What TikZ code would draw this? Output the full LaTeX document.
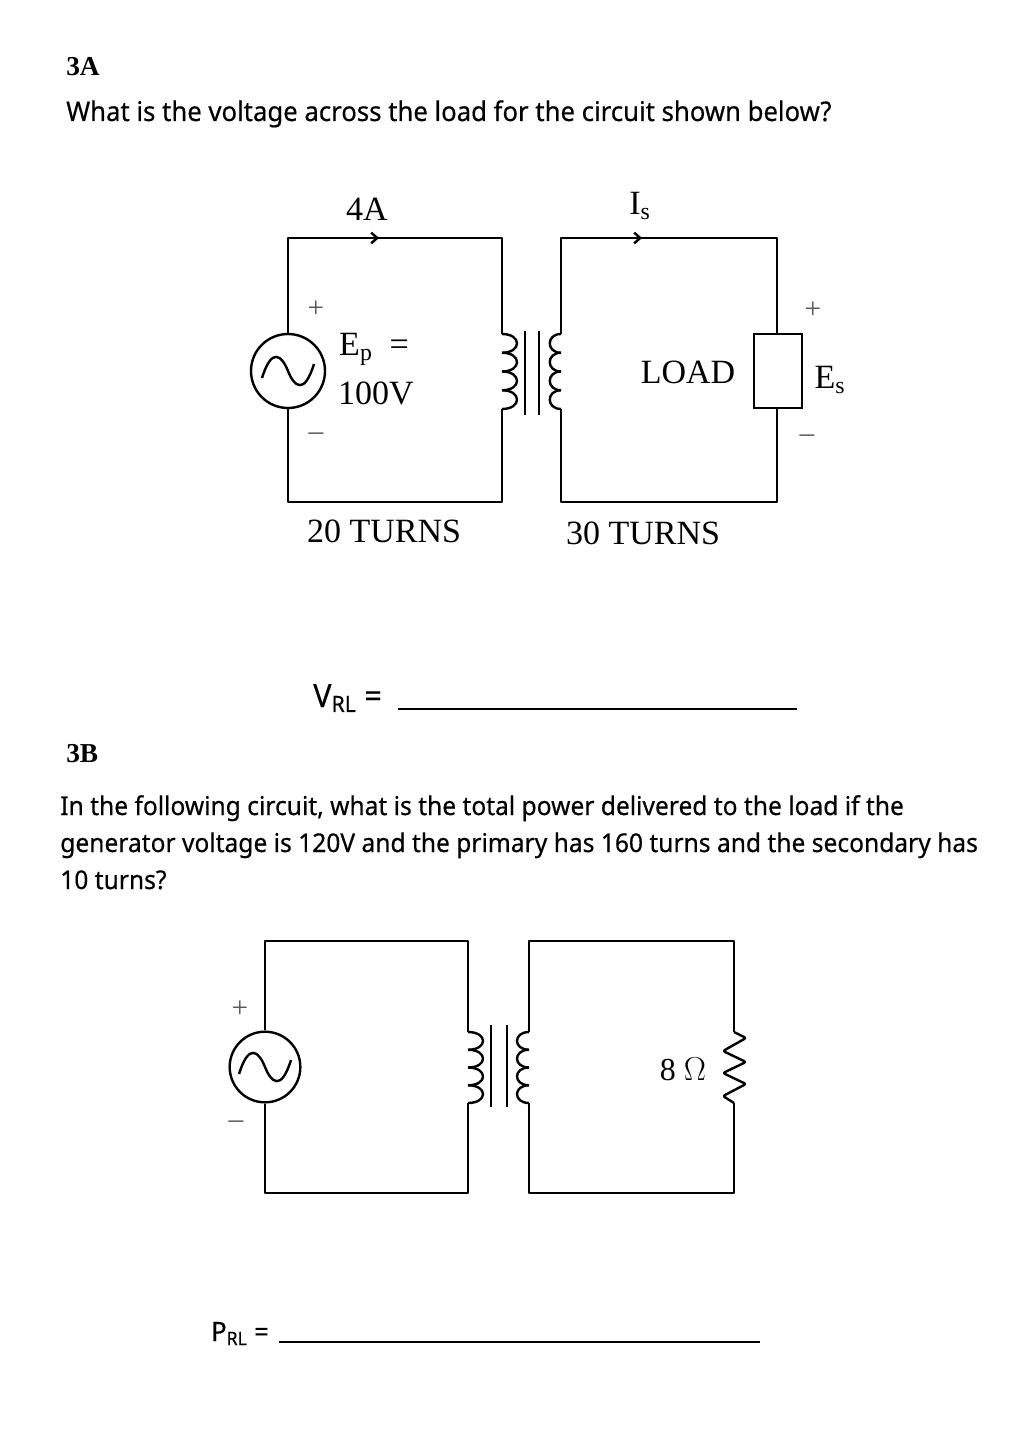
\documentclass[tikz,border=0pt]{standalone}
\usepackage{fontspec}
\setmainfont{Liberation Serif}
\newfontfamily\qfont[FakeStretch=0.95,FakeBold=0.4]{Noto Sans}
\usetikzlibrary{arrows.meta}
\tikzset{
  wire/.style={line width=1.8pt, line join=round},
  core/.style={line width=1.5pt},
  barb/.style={wire, -{Straight Barb[length=4.5pt,width=8pt]}},
  source/.style={circle, draw, line width=1.8pt, minimum size=55.5pt, inner sep=0pt},
  loadbox/.style={rectangle, draw, line width=1.8pt, minimum width=36pt, minimum height=55.5pt, inner sep=0pt},
  head/.style={anchor=base west, inner sep=0pt, font=\fontsize{20.5}{20.5}\selectfont\bfseries},
  qtext/.style={anchor=base west, inner sep=0pt, font=\qfont\fontsize{20.3}{20.3}\selectfont},
  qsmall/.style={qtext, font=\qfont\fontsize{19.4}{19.4}\selectfont},
  lab/.style={font=\fontsize{25.5}{25.5}\selectfont},
  sign/.style={font=\fontsize{22}{22}\selectfont, text=black!65},
  answer/.style={line width=1.4pt}
}
% x, y, bulge, step
\newcommand{\coilpath}[4]{
  \foreach \i in {0,1,2,3}
    \draw[wire] (#1,{#2+\i*#4}) .. controls ({#1+#3},{#2+\i*#4}) and ({#1+#3},{#2+(\i+1)*#4}) .. (#1,{#2+(\i+1)*#4});
}
\newcommand{\acsine}[1]{
  \draw[wire,shift={(#1.center)}] (-26,7) .. controls (-16,-25) and (-6,-15) .. (0,0) .. controls (6,15) and (16,25) .. (26,-7);
}
\begin{document}
\begin{tikzpicture}[x=0.75pt,y=-0.75pt]
\useasboundingbox[fill=white] (0,0) rectangle (1019,1434);

% first question
\node[head] (titleA) at (66,76) {3A};
\node[qtext] (qA) at (66,121) {What is the voltage across the load for the circuit shown below?};

\node[source] (srcA) at (288,371) {};
\acsine{srcA}
\coordinate (aTL) at (288,238);
\coordinate (aArr) at (379,238);
\coordinate (aTR) at (502,238);
\coordinate (aCt) at (502,334);
\coordinate (aCb) at (502,409);
\coordinate (aBR) at (502,502);
\coordinate (aBL) at (288,502);
\draw[wire] (srcA) -- (aTL) -- (aTR) -- (aCt);
\draw[barb] (aTL) -- (aArr);
\draw[wire] (aCb) -- (aBR) -- (aBL) -- (srcA);
\coilpath{502}{334}{20}{18.75}

\coordinate (aCore1t) at (525,331);
\coordinate (aCore1b) at (525,415);
\coordinate (aCore2t) at (539,331);
\coordinate (aCore2b) at (539,415);
\draw[core] (aCore1t) -- (aCore1b);
\draw[core] (aCore2t) -- (aCore2b);

\node[loadbox] (load) at (778,371) {};
\coordinate (bTL) at (561,238);
\coordinate (bArr) at (642,238);
\coordinate (bTR) at (777,238);
\coordinate (bCt) at (561,334);
\coordinate (bCb) at (561,409);
\coordinate (bBL) at (561,502);
\coordinate (bBR) at (777,502);
\draw[wire] (bCt) -- (bTL) -- (bTR) -- (bTR |- load.north);
\draw[barb] (bTL) -- (bArr);
\draw[wire] (bCb) -- (bBL) -- (bBR) -- (bBR |- load.south);
\coilpath{561}{334}{-15}{18.75}

\node[lab] (curA) at (367,209) {4A};
\node[lab] (curB) at (640,206) {I\textsubscript{s}};
\node[sign] (plusA) at (316,309) {+};
\node[sign] (minusA) at (316,437) {--};
\node[lab] (ep) at (374,349) {E\textsubscript{p}\,\,\,=};
\node[lab] (ev) at (376,393) {100V};
\node[lab] (loadlab) at (688,372) {LOAD};
\node[lab] (es) at (830,380) {E\textsubscript{s}};
\node[sign] (plusB) at (813,310) {+};
\node[sign] (minusB) at (807,439) {--};
\node[lab] (turnsA) at (384,531) {20 TURNS};
\node[lab] (turnsB) at (643,533) {30 TURNS};

\node[qtext, font=\qfont\fontsize{24}{24}\selectfont] (vrl) at (313,707) {V\textsubscript{RL} =};
\coordinate (vl) at (398,709);
\coordinate (vr) at (797,709);
\draw[answer] (vl) -- (vr);

% second question
\node[head] (titleB) at (66,762) {3B};
\node[qsmall] (qB1) at (60,815) {In the following circuit, what is the total power delivered to the load if the};
\node[qsmall] (qB2) at (60,852) {generator voltage is 120V and the primary has 160 turns and the secondary has};
\node[qsmall] (qB3) at (60,889) {10 turns?};

\node[source, minimum size=53pt] (srcB) at (265,1067) {};
\acsine{srcB}
\coordinate (cTL) at (265,941);
\coordinate (cTR) at (468,941);
\coordinate (cCt) at (468,1032);
\coordinate (cCb) at (468,1103);
\coordinate (cBR) at (468,1193);
\coordinate (cBL) at (265,1193);
\draw[wire] (srcB) -- (cTL) -- (cTR) -- (cCt);
\draw[wire] (cCb) -- (cBR) -- (cBL) -- (srcB);
\coilpath{468}{1032}{20}{17.75}

\coordinate (cCore1t) at (491,1025);
\coordinate (cCore1b) at (491,1107);
\coordinate (cCore2t) at (507,1025);
\coordinate (cCore2b) at (507,1107);
\draw[core] (cCore1t) -- (cCore1b);
\draw[core] (cCore2t) -- (cCore2b);

\coordinate (dTL) at (529,941);
\coordinate (dTR) at (734,941);
\coordinate (dCt) at (529,1032);
\coordinate (dCb) at (529,1103);
\coordinate (dBL) at (529,1193);
\coordinate (dBR) at (734,1193);
\coordinate (dRt) at (734,1032);
\coordinate (dRb) at (734,1103);
\draw[wire] (dCt) -- (dTL) -- (dTR) -- (dRt);
\draw[wire] (dCb) -- (dBL) -- (dBR) -- (dRb);
\coilpath{529}{1032}{-16}{17.75}
\draw[wire, rounded corners=1.5pt] (dRt) -- (746,1038) -- (723,1051) -- (746,1062) -- (723,1073) -- (746,1084) -- (723,1096) -- (dRb);

\node[sign] (plusC) at (240,1009) {+};
\node[sign] (minusC) at (236,1125) {--};
\node[lab, font=\fontsize{24}{24}\selectfont] (ohm) at (683,1069) {8 $\Omega$};

\node[qtext, font=\qfont\fontsize{20}{20}\selectfont] (prl) at (211,1341) {P\textsubscript{RL} =};
\coordinate (pl) at (279,1342);
\coordinate (pr) at (760,1342);
\draw[answer] (pl) -- (pr);
\end{tikzpicture}
\end{document}
